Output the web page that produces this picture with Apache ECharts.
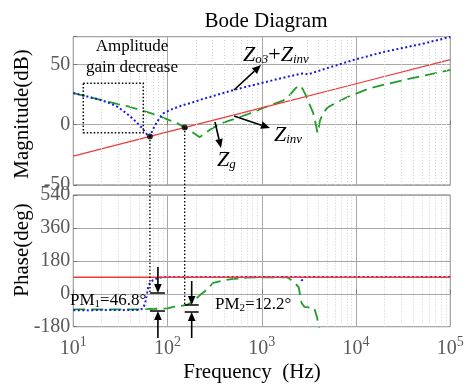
<!DOCTYPE html>
<html><head><meta charset="utf-8">
<script src="https://cdn.jsdelivr.net/npm/echarts@6/dist/echarts.min.js"></script>
<style>html,body{margin:0;padding:0;background:#fff}#c{width:474px;height:388px}</style>
</head><body><div id="c"></div>
<script>
// ---- data ----
const redFreq = [10, 100, 1000, 10000, 100000];
const redMag = [-26, -6, 14, 34, 54];
const redPhFreq = [10, 100000];
const redPhase = [90, 90];

const blueFreq = [10, 15, 20, 25, 30, 37, 42, 47, 52, 57, 61, 65, 69, 73, 77, 83, 90, 105, 126, 150, 186, 230, 282, 380, 495, 650, 890, 1222, 1800, 2500, 2735, 2850, 3100, 5000, 9300, 20000, 50000, 100000];
const blueMag = [26.3, 22.8, 20.3, 17.5, 14.5, 9.2, 5.5, 2, -1.5, -5.5, -8.5, -9.7, -5, -1, 2, 6, 9.4, 12, 14.5, 16.5, 18.6, 21, 23, 26, 28.6, 31, 33.6, 36.3, 39.5, 42, 42.5, 41.2, 41.8, 47, 53.6, 60.5, 67, 72.8];
const bluePhFreq = [10, 50, 55, 58, 60.4, 63, 70, 80, 100, 2550, 2650, 2750, 2850, 100000];
const bluePhase = [-90, -88, -80, -50, 0, 48, 75, 88, 92, 92, 72, 80, 92, 92];

const greenFreq = [10, 15, 20, 25, 30, 40, 50, 65, 83, 101, 126, 160, 190, 220, 250, 282, 360, 495, 700, 1000, 1222, 1680, 2000, 2300, 2520, 2700, 2950, 3200, 3500, 3750, 3900, 4000, 4150, 4500, 5000, 8000, 14000, 31700, 100000];
const greenMag = [26.3, 22.8, 20.3, 18.5, 17, 14.7, 12.5, 9.8, 6.9, 4.2, 1.3, -3.3, -7, -10.3, -7, -4.2, 0.8, 4.5, 8.5, 13.5, 16, 20, 25, 30.5, 32.7, 30, 24, 17, 10, 0, -7, -3, 3.6, 10, 14.4, 22.8, 30.3, 37, 45.5];
const greenPhFreq = [10, 50, 100, 115, 159, 186, 221, 260, 305, 400, 500, 700, 1000, 1850, 2000, 2200, 2460, 2640, 2840, 3600, 3850, 4030, 4100];
const greenPhase = [-85, -85, -80, -72, -61, -43, -7, 21, 59, 74, 81, 88, 90, 90, 80, 62, 37, -50, -72, -78, -127, -180, -200];

const markPoints = [[65, -9.7], [152, -2.4]];
const magTicks = [-50, 0, 50];
const phaseTicks = [-180, 0, 180, 360, 540];
const xTickExps = [1, 2, 3, 4, 5];

// ---- helpers ----
const zip = (a, b) => a.map((v, i) => [v, b[i]]);
const minorVals = [];
for (let e = 1; e < 5; e++) for (let k = 2; k <= 9; k++) minorVals.push(k * Math.pow(10, e));
const minorMark = {
  silent: true, symbol: 'none', animation: false,
  label: {show: false},
  lineStyle: {color: '#d2d2d2', type: [1, 2], width: 1},
  data: minorVals.map(v => ({xAxis: v}))
};
const SERIF = 'Liberation Serif';
const grids = [
  {left: 73.3, top: 36.7, width: 377, height: 148.3, show: true, borderColor: '#6e6e6e', borderWidth: 1, backgroundColor: '#fff'},
  {left: 73.3, top: 195, width: 377, height: 131.7, show: true, borderColor: '#6e6e6e', borderWidth: 1, backgroundColor: '#fff'}
];
function xAx(i, labels) {
  return {
    type: 'log', logBase: 10, min: 10, max: 100000, gridIndex: i, splitNumber: 4,
    axisLine: {show: false},
    axisTick: {show: true, inside: true, length: 4, lineStyle: {color: '#777'}},
    splitLine: {show: true, lineStyle: {color: '#a8a8a8', width: 1}},
    axisLabel: labels ? {
      show: true, margin: 9, color: '#5a5a5a', fontFamily: SERIF,
      formatter: v => { const e = Math.round(Math.log10(v)); return xTickExps.includes(e) ? '{b|10}{s|' + e + '}' : ''; },
      rich: {b: {fontSize: 20, fontFamily: SERIF, color: '#5a5a5a'}, s: {fontSize: 14, fontFamily: SERIF, color: '#5a5a5a', padding: [0, 0, 12, 0]}}
    } : {show: false}
  };
}
function yAx(i, min, max, interval, ticks) {
  return {
    type: 'value', gridIndex: i, min, max, interval,
    axisLine: {show: false},
    axisTick: {show: true, inside: true, length: 4, lineStyle: {color: '#777'}},
    splitLine: {show: true, lineStyle: {color: '#a8a8a8', width: 1}},
    axisLabel: {margin: 3, fontSize: 20, fontFamily: SERIF, color: '#5a5a5a',
      formatter: v => ticks.includes(v) ? String(v) : ''}
  };
}
const RED = '#ee3a3a', BLUE = '#1a1ad8', GREEN = '#1f9e2a';
const chart = echarts.init(document.getElementById('c'), null, {renderer: 'canvas'});
chart.setOption({
  animation: false,
  backgroundColor: '#fff',
  grid: grids,
  xAxis: [xAx(0, false), xAx(1, true)],
  yAxis: [yAx(0, -50, 73, 50, magTicks), yAx(1, -180, 540, 180, phaseTicks)],
  series: [
    {type: 'line', xAxisIndex: 0, yAxisIndex: 0, data: zip(redFreq, redMag), symbol: 'none', z: 1, lineStyle: {width: 0}, markLine: minorMark},
    {type: 'line', xAxisIndex: 1, yAxisIndex: 1, data: zip(redPhFreq, redPhase), symbol: 'none', z: 1, lineStyle: {width: 0}, markLine: minorMark},
    {type: 'line', xAxisIndex: 0, yAxisIndex: 0, data: zip(greenFreq, greenMag), symbol: 'none', z: 3, lineStyle: {color: GREEN, width: 1.8, type: [12, 6]}},
    {type: 'line', xAxisIndex: 0, yAxisIndex: 0, data: zip(redFreq, redMag), symbol: 'none', z: 4, lineStyle: {color: RED, width: 1.2}},
    {type: 'line', xAxisIndex: 0, yAxisIndex: 0, data: zip(blueFreq, blueMag), symbol: 'none', z: 5, lineStyle: {color: BLUE, width: 2, type: [2, 2.5]}},
    {type: 'line', xAxisIndex: 1, yAxisIndex: 1, data: zip(greenPhFreq, greenPhase), symbol: 'none', z: 3, lineStyle: {color: GREEN, width: 1.8, type: [12, 6]}},
    {type: 'line', xAxisIndex: 1, yAxisIndex: 1, data: zip(bluePhFreq, bluePhase), symbol: 'none', z: 4, lineStyle: {color: BLUE, width: 2, type: [2, 2.5]}},
    {type: 'line', xAxisIndex: 1, yAxisIndex: 1, data: zip(redPhFreq, redPhase), symbol: 'none', z: 5, lineStyle: {color: RED, width: 1.5}},
    {type: 'scatter', xAxisIndex: 0, yAxisIndex: 0, data: markPoints, symbolSize: 6, z: 10, itemStyle: {color: '#000'}}
  ]
});

// ---- annotations ----
const p1 = chart.convertToPixel({xAxisIndex: 0, yAxisIndex: 0}, markPoints[0]);
const p2 = chart.convertToPixel({xAxisIndex: 0, yAxisIndex: 0}, markPoints[1]);
const blk = {stroke: '#000', lineWidth: 1.5};
const dot = {stroke: '#000', lineWidth: 1.3, lineDash: [1.5, 2]};
function line(x1, y1, x2, y2, st) { return {type: 'line', shape: {x1, y1, x2, y2}, style: st, z: 20}; }
function arrow(x1, y1, x2, y2) {
  const a = Math.atan2(y2 - y1, x2 - x1), L = 9, W = 3.8;
  const bx = x2 - L * Math.cos(a), by = y2 - L * Math.sin(a);
  const nx = -Math.sin(a) * W, ny = Math.cos(a) * W;
  return [
    line(x1, y1, bx, by, {stroke: '#000', lineWidth: 1.6}),
    {type: 'polygon', shape: {points: [[x2, y2], [bx + nx, by + ny], [bx - nx, by - ny]]}, style: {fill: '#000'}, z: 20}
  ];
}
function txt(x, y, text, opt) {
  return Object.assign({type: 'text', x, y, z: 21, style: Object.assign({text, fill: '#000', font: '17px "Liberation Serif"', align: 'left', verticalAlign: 'middle'}, opt || {})});
}
const zRich = {
  z: {fontSize: 22, fontStyle: 'italic', fontFamily: SERIF, fill: '#000'},
  s: {fontSize: 13, fontStyle: 'italic', fontFamily: SERIF, fill: '#000', padding: [9, 0, 0, 0]},
  p: {fontSize: 22, fontFamily: SERIF, fill: '#000'}
};
const pmRich = {
  a: {fontSize: 17, fontFamily: SERIF, fill: '#000'},
  s: {fontSize: 11, fontFamily: SERIF, fill: '#000', padding: [7, 0, 0, 0]}
};
const x1 = p1[0], x2 = p2[0];
const g = [
  txt(266, 21, 'Bode Diagram', {font: '21px "Liberation Serif"', align: 'center'}),
  Object.assign(txt(22, 114, 'Magnitude(dB)', {font: '21px "Liberation Serif"', align: 'center'}), {rotation: Math.PI / 2}),
  Object.assign(txt(22, 250, 'Phase(deg)', {font: '21px "Liberation Serif"', align: 'center'}), {rotation: Math.PI / 2}),
  txt(252, 372, 'Frequency  (Hz)', {font: '21px "Liberation Serif"', align: 'center'}),
  txt(132, 47, 'Amplitude', {align: 'center'}),
  txt(132, 68, 'gain decrease', {align: 'center'}),
  {type: 'rect', shape: {x: 83.3, y: 83.3, width: 60, height: 49.4}, style: {fill: 'none', stroke: '#000', lineWidth: 1.5, lineDash: [1.5, 2]}, z: 20},
  line(x1, p1[1], x1, 293, dot),
  line(x2, p2[1], x2, 305, dot),
  line(x1, 293, x1 + 15, 293, blk), line(x1, 311, x1 + 15, 311, blk),
  line(x2, 305, x2 + 14, 305, blk), line(x2, 312, x2 + 14, 312, blk),
  ...arrow(x1 + 8, 267, x1 + 8, 293), ...arrow(x1 + 8, 338, x1 + 8, 311),
  ...arrow(x2 + 7, 281, x2 + 7, 305), ...arrow(x2 + 7, 338, x2 + 7, 312),
  txt(70, 301, '{a|PM}{s|1}{a|=46.8°}', {rich: pmRich}),
  txt(215, 305, '{a|PM}{s|2}{a|=12.2°}', {rich: pmRich}),
  ...arrow(234, 90, 261, 65),
  ...arrow(234, 116, 270, 128),
  ...arrow(215, 122, 221, 148),
  txt(243, 55, '{z|Z}{s|o3}{p|+}{z|Z}{s|inv}', {rich: zRich}),
  txt(274, 135, '{z|Z}{s|inv}', {rich: zRich}),
  txt(217, 160, '{z|Z}{s|g}', {rich: zRich})
];
chart.setOption({graphic: g});
</script></body></html>
